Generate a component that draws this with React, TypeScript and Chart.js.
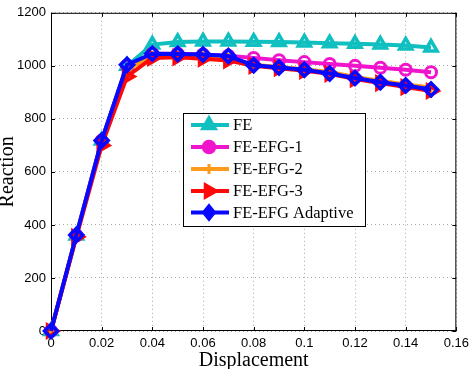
import React, { useEffect, useRef } from "react";
import { Chart, registerables } from "chart.js";

Chart.register(...registerables);

const displacement = [0, 0.01, 0.02, 0.03, 0.04, 0.05, 0.06, 0.07, 0.08, 0.09, 0.1, 0.11, 0.12, 0.13, 0.14, 0.15];
const feValues = [0, 360, 718, 1000, 1080, 1090, 1092, 1092, 1091, 1090, 1088, 1085, 1083, 1080, 1077, 1069];
const efg1Values = [0, 360, 718, 1000, 1046, 1046, 1043, 1038, 1030, 1021, 1014, 1007, 1000, 993, 985, 976];
const efg2Values = [0, 358, 712, 985, 1038, 1040, 1036, 1030, 1004, 996, 987, 977, 958, 944, 930, 918];
const efg3Values = [0, 355, 700, 960, 1030, 1032, 1027, 1020, 1000, 991, 981, 970, 950, 935, 920, 905];
const adaptiveValues = [0, 362, 718, 1004, 1046, 1045, 1043, 1037, 1002, 994, 985, 971, 954, 938, 926, 911];

const xTicks = [0, 0.02, 0.04, 0.06, 0.08, 0.1, 0.12, 0.14, 0.16];
const yTicks = [0, 200, 400, 600, 800, 1000, 1200];

const seriesNames = ["FE", "FE-EFG-1", "FE-EFG-2", "FE-EFG-3", "FE-EFG Adaptive"];
const seriesColors = ["#10bfbf", "#f014cc", "#ff9a1a", "#ff0808", "#0808ff"];
const seriesStyles = ["triangle", "circle", "cross", "rtriangle", "diamond"];

const toPts = (vals: number[]) => vals.map((v, i) => ({ x: displacement[i], y: v }));

function drawMarker(ctx: CanvasRenderingContext2D, style: string, x: number, y: number, color: string) {
  ctx.save();
  ctx.strokeStyle = color;
  ctx.fillStyle = color;
  ctx.lineWidth = 3.5;
  ctx.lineJoin = "miter";
  ctx.beginPath();
  if (style === "triangle") {
    const r = 7;
    ctx.moveTo(x, y - r);
    ctx.lineTo(x + r * 0.866, y + r * 0.5);
    ctx.lineTo(x - r * 0.866, y + r * 0.5);
    ctx.closePath();
    ctx.fill();
    ctx.stroke();
  } else if (style === "rtriangle") {
    const r = 7;
    ctx.moveTo(x + r, y);
    ctx.lineTo(x - r * 0.5, y + r * 0.866);
    ctx.lineTo(x - r * 0.5, y - r * 0.866);
    ctx.closePath();
    ctx.fill();
    ctx.stroke();
  } else if (style === "circle") {
    ctx.arc(x, y, 5.5, 0, Math.PI * 2);
    ctx.fill();
    ctx.stroke();
  } else if (style === "diamond") {
    const r = 6.5;
    ctx.moveTo(x, y - r);
    ctx.lineTo(x + r * 0.8, y);
    ctx.lineTo(x, y + r);
    ctx.lineTo(x - r * 0.8, y);
    ctx.closePath();
    ctx.fill();
    ctx.stroke();
  } else if (style === "cross") {
    ctx.lineWidth = 3;
    ctx.moveTo(x - 5, y);
    ctx.lineTo(x + 5, y);
    ctx.moveTo(x, y - 5);
    ctx.lineTo(x, y + 5);
    ctx.stroke();
  }
  ctx.restore();
}

const framePlugin = {
  id: "frame",
  beforeDatasetsDraw(chart: any) {
    const { ctx, chartArea } = chart;
    const { left, right, top, bottom } = chartArea;
    const xs = chart.scales.x;
    const ys = chart.scales.y;
    ctx.save();
    ctx.strokeStyle = "#000";
    ctx.lineWidth = 1;
    ctx.beginPath();
    ctx.rect(left + 0.5, top + 0.5, right - left - 1, bottom - top - 1);
    ctx.stroke();
    ctx.beginPath();
    const tl = 4;
    xTicks.forEach((t) => {
      const px = Math.round(xs.getPixelForValue(t)) + 0.5;
      ctx.moveTo(px, bottom);
      ctx.lineTo(px, bottom - tl);
      ctx.moveTo(px, top);
      ctx.lineTo(px, top + tl);
    });
    yTicks.forEach((t) => {
      const py = Math.round(ys.getPixelForValue(t)) + 0.5;
      ctx.moveTo(left, py);
      ctx.lineTo(left + tl, py);
      ctx.moveTo(right, py);
      ctx.lineTo(right - tl, py);
    });
    ctx.stroke();
    ctx.restore();
  },
};

const legendPlugin = {
  id: "boxLegend",
  afterDraw(chart: any) {
    const { ctx } = chart;
    const bx = 183.5, by = 113.5, bw = 182, bh = 113;
    ctx.save();
    ctx.fillStyle = "#fff";
    ctx.fillRect(bx, by, bw, bh);
    ctx.strokeStyle = "#000";
    ctx.lineWidth = 1;
    ctx.strokeRect(bx, by, bw, bh);
    const rowY = [125, 147, 169, 191, 212.5];
    seriesNames.forEach((name, i) => {
      const y = rowY[i];
      ctx.strokeStyle = seriesColors[i];
      ctx.lineWidth = 4;
      ctx.beginPath();
      ctx.moveTo(191, y);
      ctx.lineTo(229, y);
      ctx.stroke();
      drawMarker(ctx, seriesStyles[i], 209, y, seriesColors[i]);
      ctx.fillStyle = "#000";
      ctx.font = "16.5px 'Liberation Serif'";
      ctx.textBaseline = "middle";
      ctx.textAlign = "left";
      ctx.fillText(name, 233, y + 1);
    });
    ctx.restore();
  },
};

export default function App() {
  const ref = useRef<HTMLCanvasElement>(null);
  useEffect(() => {
    if (!ref.current) return;
    const mk = (i: number, vals: number[], extra: any) => ({
      label: seriesNames[i],
      data: toPts(vals),
      borderColor: seriesColors[i],
      backgroundColor: "rgba(0,0,0,0)",
      borderWidth: 4,
      pointBorderWidth: 3.5,
      pointBackgroundColor: "rgba(0,0,0,0)",
      pointBorderColor: seriesColors[i],
      clip: false,
      tension: 0,
      ...extra,
    });
    const chart = new Chart(ref.current, {
      type: "line",
      data: {
        datasets: [
          mk(4, adaptiveValues, { pointStyle: "rectRot", pointRadius: 6.5, order: 0 }),
          mk(3, efg3Values, { pointStyle: "triangle", rotation: 90, pointRadius: 7, order: 1 }),
          mk(2, efg2Values, { pointStyle: "cross", pointRadius: 5, pointBorderWidth: 3, order: 2 }),
          mk(1, efg1Values, { pointStyle: "circle", pointRadius: 5.5, pointBorderWidth: 3, order: 3 }),
          mk(0, feValues, { pointStyle: "triangle", pointRadius: 7, order: 4 }),
        ],
      },
      options: {
        animation: false,
        responsive: false,
        devicePixelRatio: 1,
        layout: { padding: { top: 6, right: 13, left: 0, bottom: 0 } },
        plugins: { legend: { display: false }, tooltip: { enabled: false } },
        scales: {
          x: {
            type: "linear",
            min: 0,
            max: 0.16,
            afterFit: (s: any) => { s.height = 38; },
            afterBuildTicks: (s: any) => { s.ticks = xTicks.map((v) => ({ value: v })); },
            ticks: {
              color: "#000",
              padding: 5,
              font: { family: "'Liberation Sans'", size: 13 },
              callback: (v: any) => String(Number(v)),
              maxRotation: 0,
              autoSkip: false,
            },
            grid: { color: "#a8a8a8", lineWidth: 1, drawTicks: false },
            border: { display: false, dash: [1, 3] },
            title: {
              display: true,
              text: "Displacement",
              color: "#000",
              font: { family: "'Liberation Serif'", size: 20, lineHeight: 1 },
              padding: { top: 0, bottom: -2 },
            },
          },
          y: {
            type: "linear",
            min: 0,
            max: 1200,
            afterFit: (s: any) => { s.width = 51; },
            afterBuildTicks: (s: any) => { s.ticks = yTicks.map((v) => ({ value: v })); },
            ticks: {
              color: "#000",
              padding: 5,
              font: { family: "'Liberation Sans'", size: 13 },
              callback: (v: any) => String(Number(v)),
              autoSkip: false,
            },
            grid: { color: "#a8a8a8", lineWidth: 1, drawTicks: false },
            border: { display: false, dash: [1, 3] },
            title: {
              display: true,
              text: "Reaction",
              color: "#000",
              font: { family: "'Liberation Serif'", size: 20, lineHeight: 1 },
              padding: { top: -2, bottom: 0 },
            },
          },
        },
      },
      plugins: [framePlugin, legendPlugin],
    } as any);
    return () => chart.destroy();
  }, []);
  return (
    <div style={{ position: "fixed", left: 0, top: 0, width: 474, height: 369, background: "#fff" }}>
      <canvas ref={ref} width={474} height={369} style={{ display: "block" }} />
    </div>
  );
}
